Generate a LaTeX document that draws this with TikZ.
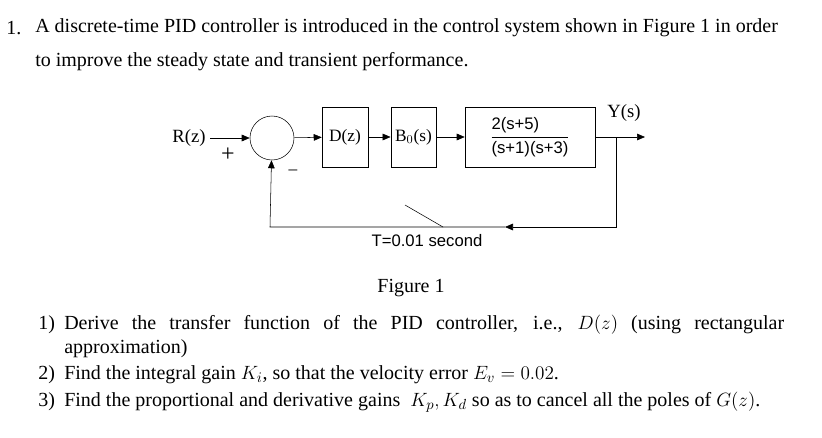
\documentclass[tikz,border=0pt]{standalone}
\usepackage{amsmath}
\usepackage{fontspec}
\setmainfont{Liberation Serif}
\newfontfamily\arialfont{Liberation Sans}
\usetikzlibrary{positioning,arrows.meta}
\begin{document}
\begin{tikzpicture}[x=0.75pt,y=-0.75pt,
    blk/.style={draw,minimum height=45pt,inner sep=0pt},
    sig/.style={-{Triangle[length=6pt,width=5pt]}},
    txt/.style={anchor=west,inner sep=0pt,font=\fontsize{15}{17.5}\selectfont},
    sans/.style={font=\arialfont\fontsize{12.5}{14}\selectfont}]
\useasboundingbox (0,0) rectangle (822,437);
% problem text
\node[txt] (n1) at (6,28) {1.};
\node[txt,text width=562pt,align=justify] (l1) at (35,28) {A discrete-time PID controller is introduced in the control system shown in Figure 1 in order\hfill\null};
\node[txt] (l2) at (35,62) {to improve the steady state and transient performance.};
% block diagram
\node[font=\fontsize{14}{16}\selectfont] (r) at (189,138) {R(z)};
\node[draw,circle,minimum size=33pt,inner sep=0pt] (sum) at (272,138) {};
\node[blk,minimum width=34.5pt,font=\fontsize{13}{15}\selectfont] (d) at (345,137) {D(z)};
\node[blk,minimum width=34pt,font=\fontsize{13}{15}\selectfont] (b) at (413.5,137) {B$_0$(s)};
\node[blk,minimum width=97.5pt,sans] (g) at (530,137) {$\vcenter{\hbox{\arialfont 2(s+5)}\vskip3pt\hrule\vskip3pt\hbox{\arialfont(s+1)(s+3)}}$};
\coordinate (out) at (645,137);
\coordinate (tap) at (616,137);
\coordinate (c1) at (616,227);
\coordinate (sw) at (443,227);
\coordinate (swt) at (405,205);
\coordinate (c2) at (270,227);
\node[font=\fontsize{14}{16}\selectfont] (y) at (624,113) {Y(s)};
\node[font=\fontsize{18}{20}\selectfont] (plus) at (228,155) {+};
\node[font=\fontsize{13}{15}\selectfont] (minus) at (293,172) {\textendash};
\node[sans] (t) at (427,241) {T=0.01 second};
\draw[sig] (r) -- (sum);
\draw[sig] (sum) -- (d);
\draw[sig] (d) -- (b);
\draw[sig] (b) -- (g);
\draw[sig] (g) -- (out);
\draw[sig] (tap) -- (c1) -- (505,227);
\draw (505,227) -- (sw) -- (swt);
\draw[sig] (sw) -- (c2) -- (sum);
% questions
\node[font=\fontsize{15}{17}\selectfont] (fig) at (411,288) {Figure 1};
\node[txt] (q1) at (38,325) {1)};
\node[txt,text width=540pt,align=justify] (a1) at (64,336.5) {Derive the transfer function of the PID controller, i.e., $D(z)$ (using rectangular\linebreak approximation)};
\node[txt] (q2) at (38,375) {2)};
\node[txt] (a2) at (64,375) {Find the integral gain $K_i$, so that the velocity error $E_v=0.02$.};
\node[txt] (q3) at (38,402) {3)};
\node[txt] (a3) at (64,402) {Find the proportional and derivative gains \ $K_p, K_d$ so as to cancel all the poles of $G(z)$.};
\end{tikzpicture}
\end{document}
